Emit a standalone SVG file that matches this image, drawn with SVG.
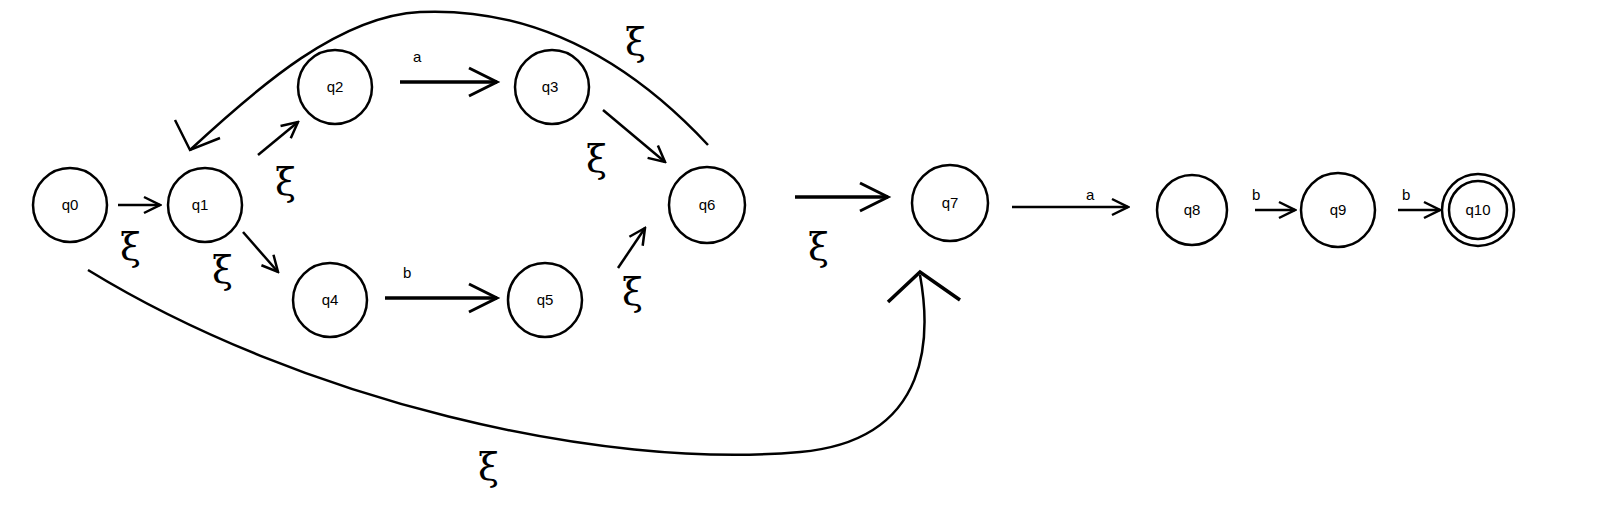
<svg xmlns="http://www.w3.org/2000/svg" width="1600" height="510" viewBox="0 0 1600 510">
<style>
.n{fill:#fff;stroke:#000;stroke-width:2.5}
.t{font-family:"Liberation Sans",Arial,sans-serif;font-size:15px}
.e{font-family:"DejaVu Serif",serif;font-size:38px}
.c{fill:none;stroke:#000;stroke-width:2.5}
.k{stroke-width:3.5}
</style>
<defs>
<marker id="h" viewBox="0 0 20 20" refX="18" refY="10" markerWidth="20" markerHeight="20" markerUnits="userSpaceOnUse" orient="auto">
<path d="M2,2 L18,10 L2,18" fill="none" stroke="#000" stroke-width="2.5"/>
</marker>
<marker id="H" viewBox="0 0 40 40" refX="36" refY="20" markerWidth="40" markerHeight="40" markerUnits="userSpaceOnUse" orient="auto">
<path d="M8,6 L36,20 L8,34" fill="none" stroke="#000" stroke-width="3"/>
</marker>
</defs>
<g id="connectors">
<line class="c" x1="118" y1="205" x2="160" y2="205" marker-end="url(#h)"/>
<line class="c" x1="258" y1="155" x2="298" y2="122" marker-end="url(#h)"/>
<line class="c" x1="243" y1="232" x2="278" y2="272" marker-end="url(#h)"/>
<line class="c k" x1="400" y1="82" x2="497" y2="82" marker-end="url(#H)"/>
<line class="c k" x1="385" y1="298" x2="497" y2="298" marker-end="url(#H)"/>
<line class="c" x1="603" y1="110" x2="665" y2="162" marker-end="url(#h)"/>
<line class="c" x1="618" y1="268" x2="645" y2="228" marker-end="url(#h)"/>
<path class="c" d="M708,145 C610,40 510,8 420,12 C340,16 260,85 190,150"/>
<path class="c" d="M175,120 L190,150 L220,138"/>
<line class="c k" x1="795" y1="197" x2="888" y2="197" marker-end="url(#H)"/>
<line class="c" x1="1012" y1="207" x2="1128" y2="207" marker-end="url(#h)"/>
<line class="c" x1="1255" y1="210" x2="1295" y2="210" marker-end="url(#h)"/>
<line class="c" x1="1398" y1="210" x2="1440" y2="210" marker-end="url(#h)"/>
<path class="c" d="M88,270 C300,400 600,470 800,452 C935,440 930,330 920,275"/>
<path class="c k" d="M888,302 L920,272 L960,300"/>
</g>
<g id="labels">
<text class="t" x="413" y="62">a</text>
<text class="t" x="403" y="278">b</text>
<text class="t" x="1086" y="200">a</text>
<text class="t" x="1252" y="200">b</text>
<text class="t" x="1402" y="200">b</text>
<text class="e" x="120" y="260">ξ</text>
<text class="e" x="275" y="195">ξ</text>
<text class="e" x="212" y="283">ξ</text>
<text class="e" x="586" y="172">ξ</text>
<text class="e" x="622" y="305">ξ</text>
<text class="e" x="625" y="55">ξ</text>
<text class="e" x="808" y="260">ξ</text>
<text class="e" x="478" y="480">ξ</text>
</g>
<g id="q0"><circle class="n" cx="70" cy="205" r="37"/><text class="t" x="70" y="210" text-anchor="middle">q0</text></g>
<g id="q1"><circle class="n" cx="205" cy="205" r="37"/><text class="t" x="200" y="210" text-anchor="middle">q1</text></g>
<g id="q2"><circle class="n" cx="335" cy="87" r="37"/><text class="t" x="335" y="92" text-anchor="middle">q2</text></g>
<g id="q3"><circle class="n" cx="552" cy="87" r="37"/><text class="t" x="550" y="92" text-anchor="middle">q3</text></g>
<g id="q4"><circle class="n" cx="330" cy="300" r="37"/><text class="t" x="330" y="305" text-anchor="middle">q4</text></g>
<g id="q5"><circle class="n" cx="545" cy="300" r="37"/><text class="t" x="545" y="305" text-anchor="middle">q5</text></g>
<g id="q6"><circle class="n" cx="707" cy="205" r="38"/><text class="t" x="707" y="210" text-anchor="middle">q6</text></g>
<g id="q7"><circle class="n" cx="950" cy="203" r="38"/><text class="t" x="950" y="208" text-anchor="middle">q7</text></g>
<g id="q8"><circle class="n" cx="1192" cy="210" r="35"/><text class="t" x="1192" y="215" text-anchor="middle">q8</text></g>
<g id="q9"><circle class="n" cx="1338" cy="210" r="37"/><text class="t" x="1338" y="215" text-anchor="middle">q9</text></g>
<g id="q10"><circle class="n" cx="1478" cy="210" r="36"/><circle class="n" cx="1478" cy="210" r="29"/><text class="t" x="1478" y="215" text-anchor="middle">q10</text></g>
</svg>
